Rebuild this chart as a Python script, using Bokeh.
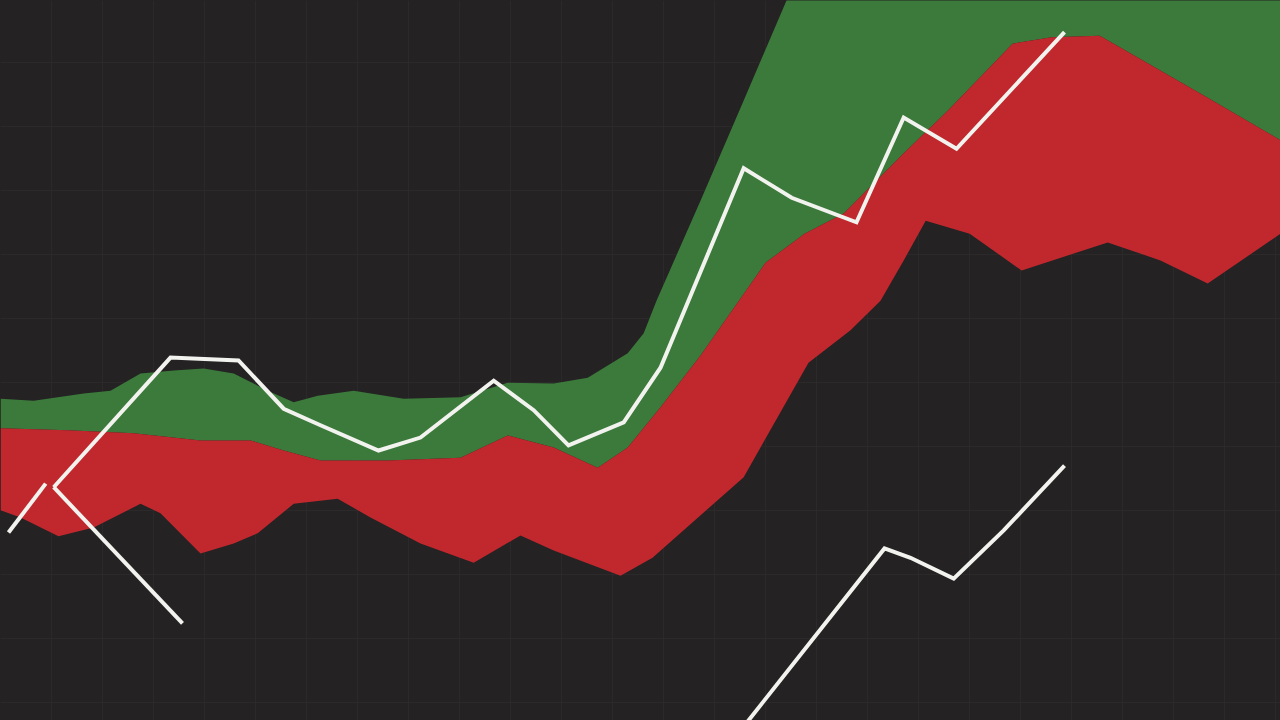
from bokeh.plotting import figure
from bokeh.models import Range1d, FixedTicker
from bokeh.embed import file_html
from bokeh.resources import INLINE

# ---- data (x: time index, y: value) ----
green_top_x = [0, 0.83, 2.08, 2.75, 3.5, 4.33, 5.08, 5.83, 6.68, 7.33, 7.93, 8.83,
               10.08, 11.5, 12.68, 13.83, 14.68, 15.68, 16.08, 16.4, 17.5, 18.58,
               19.65, 20.75, 24.0, 28.0, 32.0]
green_top_y = [44.7, 44.4, 45.4, 45.8, 48.2, 48.6, 48.9, 48.2, 45.8, 44.2, 45.1, 45.8,
               44.7, 44.9, 46.9, 46.8, 47.6, 51.0, 53.8, 58.3, 72.2, 86.1,
               100.0, 111.0, 118.0, 116.0, 112.0]

red_top_x = [0, 1.68, 3.33, 5.0, 6.25, 7.08, 8.0, 9.68, 11.5, 12.68, 13.83, 14.93,
             15.68, 16.5, 17.5, 19.13, 20.1, 21.08, 22.58, 23.68, 25.3, 26.28,
             27.48, 28.55, 30.18, 32.0]
red_top_y = [40.6, 40.3, 39.9, 38.9, 38.9, 37.5, 36.1, 36.1, 36.5, 39.6, 37.9, 35.1,
             37.9, 43.5, 50.7, 63.6, 67.6, 70.4, 78.8, 84.7, 94.0, 94.9,
             95.1, 91.7, 86.5, 80.6]

red_bot_x = [0, 0.5, 1.45, 2.33, 3.5, 4.0, 5.0, 5.83, 6.43, 7.33, 8.43, 9.25, 10.5,
             11.83, 13.0, 13.83, 15.5, 16.3, 18.58, 20.2, 21.25, 22.0, 22.58, 23.13,
             24.23, 25.53, 27.68, 29.0, 30.18, 32.0]
red_bot_y = [29.2, 28.2, 25.6, 26.8, 30.1, 28.8, 23.2, 24.6, 26.0, 30.1, 30.8, 28.2, 24.6,
             21.9, 25.7, 23.6, 20.1, 22.6, 33.8, 49.7, 54.2, 58.3, 63.9, 69.4,
             67.6, 62.5, 66.4, 63.9, 60.7, 67.6]

main_x = [1.33, 4.25, 5.95, 7.08, 8.0, 9.45, 10.5, 12.33, 13.33, 14.2, 15.58, 16.5,
          18.58, 19.78, 21.4, 22.58, 23.9, 26.6]
main_y = [32.4, 50.4, 50.0, 43.3, 41.0, 37.5, 39.3, 47.2, 43.1, 38.2, 41.4, 49.0,
          76.7, 72.6, 69.2, 83.75, 79.4, 95.6]

stub_x = [0.2, 1.13]
stub_y = [26.1, 32.9]

drop_x = [1.33, 4.55]
drop_y = [32.4, 13.5]

low_x = [18.5, 22.1, 22.75, 23.83, 25.08, 26.6]
low_y = [-1.4, 23.9, 22.6, 19.7, 26.4, 35.4]

grid_x = [1.275 * k for k in range(1, 26)]
grid_y = [100 - (62 + 64 * k) / 7.2 for k in range(0, 11)]

BG = "#242223"
GREEN = "#3b7a3b"
RED = "#c1282e"
WHITE = "#f2f2ee"

p = figure(width=1280, height=720, output_backend="svg", toolbar_location=None,
           x_range=Range1d(0, 32), y_range=Range1d(0, 100),
           min_border=0, background_fill_color=BG, border_fill_color=BG)
p.outline_line_color = None
p.xaxis.visible = False
p.yaxis.visible = False
p.xgrid.ticker = FixedTicker(ticks=grid_x)
p.ygrid.ticker = FixedTicker(ticks=grid_y)
p.grid.grid_line_color = "#2b292a"
p.grid.grid_line_width = 1

# green band: between green top and red top
gx = green_top_x + red_top_x[::-1]
gy = green_top_y + red_top_y[::-1]
p.patch(gx, gy, fill_color=GREEN, line_color=None)

# red band: between red top and red bottom
rx = red_top_x + red_bot_x[::-1]
ry = red_top_y + red_bot_y[::-1]
p.patch(rx, ry, fill_color=RED, line_color=None)

for xs, ys in [(main_x, main_y), (stub_x, stub_y), (drop_x, drop_y), (low_x, low_y)]:
    p.line(xs, ys, line_color=WHITE, line_width=4, line_join="miter")

html = file_html(p, INLINE)
html = html.replace("<head>", "<head><style>html,body{background:#242223;}</style>", 1)
open("out.html", "w").write(html)
